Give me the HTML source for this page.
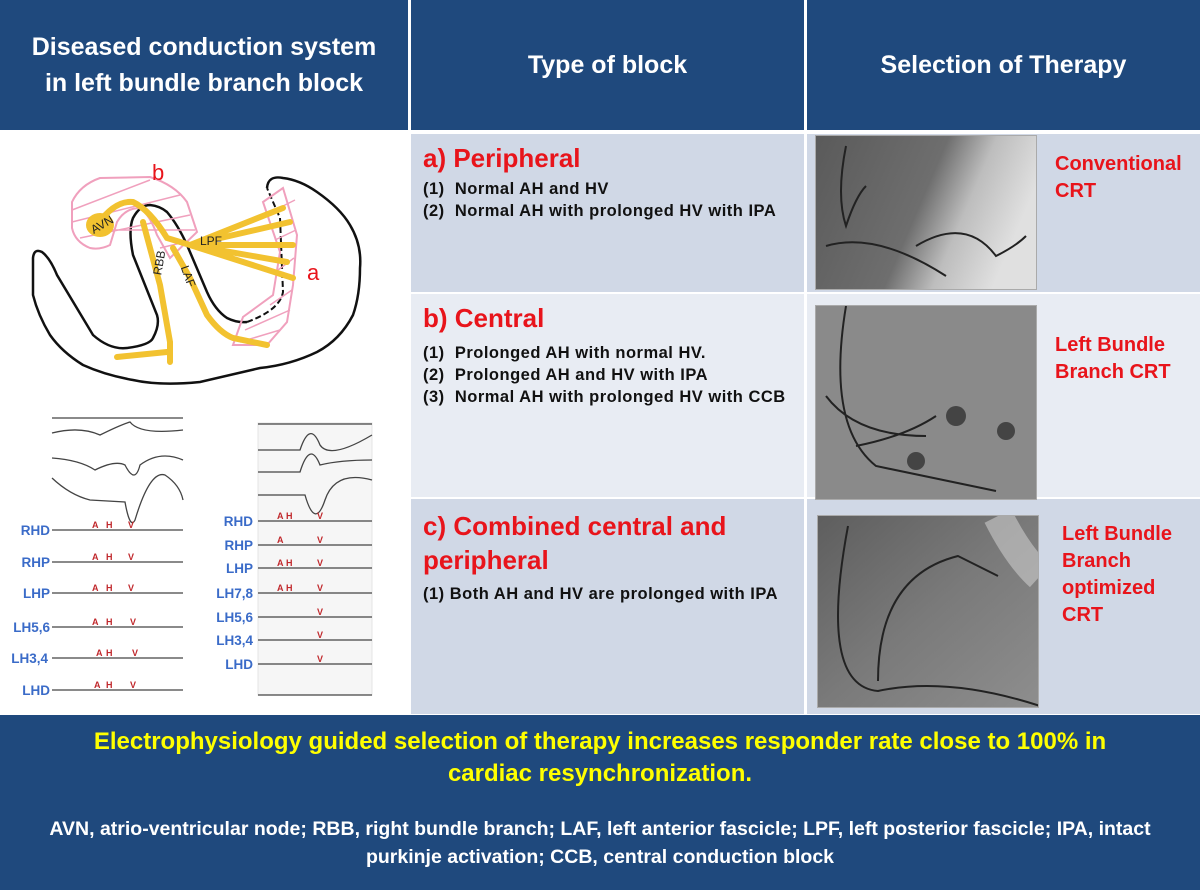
<!DOCTYPE html>
<html><head><meta charset="utf-8"><style>
*{margin:0;padding:0;box-sizing:border-box}
body{width:1200px;height:890px;background:#fff;font-family:"Liberation Sans",sans-serif;position:relative;overflow:hidden}
.a{position:absolute}
.hd{background:#1f497d;color:#fff;font-weight:bold;font-size:25px;display:flex;align-items:center;justify-content:center;text-align:center;line-height:36px}
.red{color:#e8141b;font-weight:bold}
.t{font-size:26px}
.li{font-size:16.5px;font-weight:bold;color:#111;line-height:22px;letter-spacing:0.5px;white-space:nowrap}
.img{border:1px solid #aaa;overflow:hidden}
.rl{font-size:20px;line-height:27px}
</style></head><body>
<div class="a hd" style="left:0;top:0;width:408px;height:130px">Diseased conduction system<br>in left bundle branch block</div>
<div class="a hd" style="left:411px;top:0;width:393px;height:130px">Type of block</div>
<div class="a hd" style="left:807px;top:0;width:393px;height:130px">Selection of Therapy</div>

<div class="a" style="left:411px;top:134px;width:789px;height:158px;background:#d0d8e6"></div>
<div class="a" style="left:411px;top:294px;width:789px;height:203px;background:#e8ecf3"></div>
<div class="a" style="left:411px;top:499px;width:789px;height:215px;background:#d0d8e6"></div>
<div class="a" style="left:804px;top:134px;width:3px;height:580px;background:#fff"></div>

<div class="a red t" style="left:423px;top:143px">a) Peripheral</div>
<div class="a li" style="left:423px;top:178px">(1)&nbsp; Normal AH and HV<br>(2)&nbsp; Normal AH with prolonged HV with IPA</div>
<div class="a red t" style="left:423px;top:303px">b) Central</div>
<div class="a li" style="left:423px;top:342px">(1)&nbsp; Prolonged AH with normal HV.<br>(2)&nbsp; Prolonged AH and HV with IPA<br>(3)&nbsp; Normal AH with prolonged HV with CCB</div>
<div class="a red t" style="left:423px;top:509px;line-height:34px">c) Combined central and<br>peripheral</div>
<div class="a li" style="left:423px;top:583px">(1) Both AH and HV are prolonged with IPA</div>

<svg class="a img" style="left:815px;top:135px" width="222" height="155"><defs><linearGradient id="g1" x1="0" y1="0" x2="1" y2="0.3"><stop offset="0" stop-color="#5a5a5a"/><stop offset="0.55" stop-color="#6e6e6e"/><stop offset="0.75" stop-color="#bdbdbd"/><stop offset="1" stop-color="#e0e0e0"/></linearGradient></defs><rect width="222" height="155" fill="url(#g1)"/><path d="M10 110 Q60 95 130 140 M30 10 Q20 60 30 90 Q40 60 50 50 M100 110 Q150 80 180 120 Q200 110 210 100" stroke="#222" stroke-width="2" fill="none"/></svg>
<svg class="a img" style="left:815px;top:305px" width="222" height="195"><rect width="222" height="195" fill="#8a8a8a"/><path d="M30 0 Q10 120 60 160 L180 185 M40 140 Q90 130 120 110 M10 90 Q40 130 110 130" stroke="#222" stroke-width="2" fill="none"/><circle cx="140" cy="110" r="10" fill="#444"/><circle cx="190" cy="125" r="9" fill="#444"/><circle cx="100" cy="155" r="9" fill="#444"/></svg>
<svg class="a img" style="left:817px;top:515px" width="222" height="193"><defs><linearGradient id="g3" x1="0" y1="0" x2="1" y2="1"><stop offset="0" stop-color="#5e5e5e"/><stop offset="0.5" stop-color="#7a7a7a"/><stop offset="1" stop-color="#8e8e8e"/></linearGradient></defs><rect width="222" height="193" fill="url(#g3)"/><path d="M180 0 Q200 40 222 60" stroke="#ccc" stroke-width="30" fill="none" opacity="0.6"/><path d="M30 10 Q0 170 60 175 Q130 160 222 190 M60 165 Q60 60 140 40 L180 60" stroke="#222" stroke-width="2" fill="none"/></svg>
<div class="a red rl" style="left:1055px;top:151px">Conventional<br>CRT</div>
<div class="a red rl" style="left:1055px;top:332px">Left Bundle<br>Branch CRT</div>
<div class="a red rl" style="left:1062px;top:521px">Left Bundle<br>Branch<br>optimized<br>CRT</div>

<svg class="a" style="left:0;top:130px" width="410" height="585">
<path d="M247 192 Q237 193 227 188 Q215 180 207 162 L187 115 Q178 95 167 82 Q160 76 150 75 Q140 75 133 88 Q128 100 133 125 L157 185 Q160 195 153 208 Q150 215 127 218 Q110 220 93 205 L57 145 Q50 128 42 122 Q34 118 33 128 L33 165 Q38 185 50 205 Q62 222 83 235 Q105 245 133 250 Q160 256 200 252 L260 238 Q290 235 317 222 Q340 210 353 185 Q360 165 360 138 Q362 115 350 95 Q340 78 317 62 Q300 50 283 48 Q268 45 267 58" fill="none" stroke="#111" stroke-width="2.5"/>
<path d="M247 192 Q280 180 283 162 L280 88 L267 58" fill="none" stroke="#111" stroke-width="2" stroke-dasharray="6 3"/>
<path d="M72 72 Q80 55 100 48 L150 47 Q175 55 187 72 L197 102 L170 128 L157 105 Q150 85 140 78 Q125 78 117 92 L110 115 Q100 120 90 118 Q75 112 72 98 Z" fill="none" stroke="#f0a0bd" stroke-width="2"/>
<g stroke="#f0a0bd" stroke-width="1.5"><path d="M72 80L150 50M72 92L180 65M80 108L190 85M110 100L195 100M160 118L185 112"/></g>
<path d="M263 72 L283 58 L297 105 L293 155 L287 192 L267 215 L233 215 L243 187 L273 165 L280 122 Z" fill="none" stroke="#f0a0bd" stroke-width="2"/>
<g stroke="#f0a0bd" stroke-width="1.5"><path d="M265 85L295 70M275 110L296 100M278 140L294 128M270 175L292 160M245 200L290 180M240 212L280 200"/></g>
<g stroke="#f2c230" stroke-width="6" fill="none" stroke-linecap="round">
<ellipse cx="100" cy="95" rx="14" ry="12" fill="#f2c230" stroke="none"/>
<path d="M97 95 Q115 70 133 72 Q150 80 167 108 L190 115"/>
<path d="M190 115 L283 78 M190 115 L290 92 M190 115 L293 115 M190 115 L287 132 M190 115 L293 148"/>
<path d="M143 92 Q152 125 160 155 L170 212 L170 232 M117 227 L167 222"/>
<path d="M173 118 L190 148 L207 185 Q220 203 233 208 L267 215"/>
</g>
<g font-family="Liberation Sans" font-size="12" fill="#222">
<text x="90" y="98" transform="rotate(-30 103 94)">AVN</text>
<text x="200" y="115">LPF</text>
<text x="148" y="150" transform="rotate(-80 152 140)">RBB</text>
<text x="183" y="146" transform="rotate(70 188 140)">LAF</text>
</g>
<text x="152" y="50" font-size="22" fill="#e8141b" font-family="Liberation Sans">b</text>
<text x="307" y="150" font-size="22" fill="#e8141b" font-family="Liberation Sans">a</text>
<g fill="#3a6bc8" font-weight="bold" font-size="13.5" font-family="Liberation Sans">
<text x="50" y="405" text-anchor="end">RHD</text><text x="50" y="437" text-anchor="end">RHP</text><text x="50" y="468" text-anchor="end">LHP</text><text x="50" y="502" text-anchor="end">LH5,6</text><text x="48" y="533" text-anchor="end">LH3,4</text><text x="50" y="565" text-anchor="end">LHD</text>
<text x="253" y="396" text-anchor="end">RHD</text><text x="253" y="420" text-anchor="end">RHP</text><text x="253" y="443" text-anchor="end">LHP</text><text x="253" y="468" text-anchor="end">LH7,8</text><text x="253" y="492" text-anchor="end">LH5,6</text><text x="253" y="515" text-anchor="end">LH3,4</text><text x="253" y="539" text-anchor="end">LHD</text>
</g>
<rect x="258" y="293" width="114" height="272" fill="#f6f6f6" stroke="#e4e4e4"/>
<g stroke="#444" fill="none" stroke-width="1.3">
<path d="M52 288H183"/>
<path d="M52 400H183M52 432H183M52 463H183M52 497H183M52 528H183M52 560H183"/>
<path d="M52 303Q80 296 100 305Q120 295 130 292Q140 305 183 300M52 328Q80 330 95 340Q115 330 125 335Q135 355 140 335Q160 320 183 330M52 348Q70 365 90 370L125 372Q130 400 135 390Q150 340 165 345Q180 355 183 370"/>
<path d="M258 294H372M258 565H372"/>
<path d="M258 320H300Q310 290 320 315Q330 330 372 305M258 342H300Q310 310 320 335Q340 330 372 330M258 365H305Q315 400 325 370Q335 340 372 350"/>
<path d="M258 391H372M258 415H372M258 438H372M258 463H372M258 487H372M258 510H372M258 534H372"/>
</g>
<g fill="#c0282c" font-size="9" font-weight="bold" font-family="Liberation Sans">
<text x="92" y="398">A</text><text x="106" y="398">H</text><text x="128" y="398">V</text>
<text x="92" y="430">A</text><text x="106" y="430">H</text><text x="128" y="430">V</text>
<text x="92" y="461">A</text><text x="106" y="461">H</text><text x="128" y="461">V</text>
<text x="92" y="495">A</text><text x="106" y="495">H</text><text x="130" y="495">V</text>
<text x="96" y="526">A</text><text x="106" y="526">H</text><text x="132" y="526">V</text>
<text x="94" y="558">A</text><text x="106" y="558">H</text><text x="130" y="558">V</text>
<text x="277" y="389">A</text><text x="286" y="389">H</text><text x="317" y="389">V</text>
<text x="277" y="413">A</text><text x="317" y="413">V</text>
<text x="277" y="436">A</text><text x="286" y="436">H</text><text x="317" y="436">V</text>
<text x="277" y="461">A</text><text x="286" y="461">H</text><text x="317" y="461">V</text>
<text x="317" y="485">V</text><text x="317" y="508">V</text><text x="317" y="532">V</text>
</g>
</svg>

<div class="a" style="left:0;top:715px;width:1200px;height:175px;background:#1f497d"></div>
<div class="a" style="left:0;top:726px;width:1200px;text-align:center;color:#ffff00;font-weight:bold;font-size:24px;line-height:32px;white-space:nowrap">Electrophysiology guided selection of therapy increases responder rate close to 100% in<br>cardiac resynchronization.</div>
<div class="a" style="left:0;top:815px;width:1200px;text-align:center;color:#fff;font-weight:bold;font-size:19.5px;line-height:28px;white-space:nowrap">AVN, atrio-ventricular node; RBB, right bundle branch; LAF, left anterior fascicle; LPF, left posterior fascicle; IPA, intact<br>purkinje activation; CCB, central conduction block</div>
</body></html>
